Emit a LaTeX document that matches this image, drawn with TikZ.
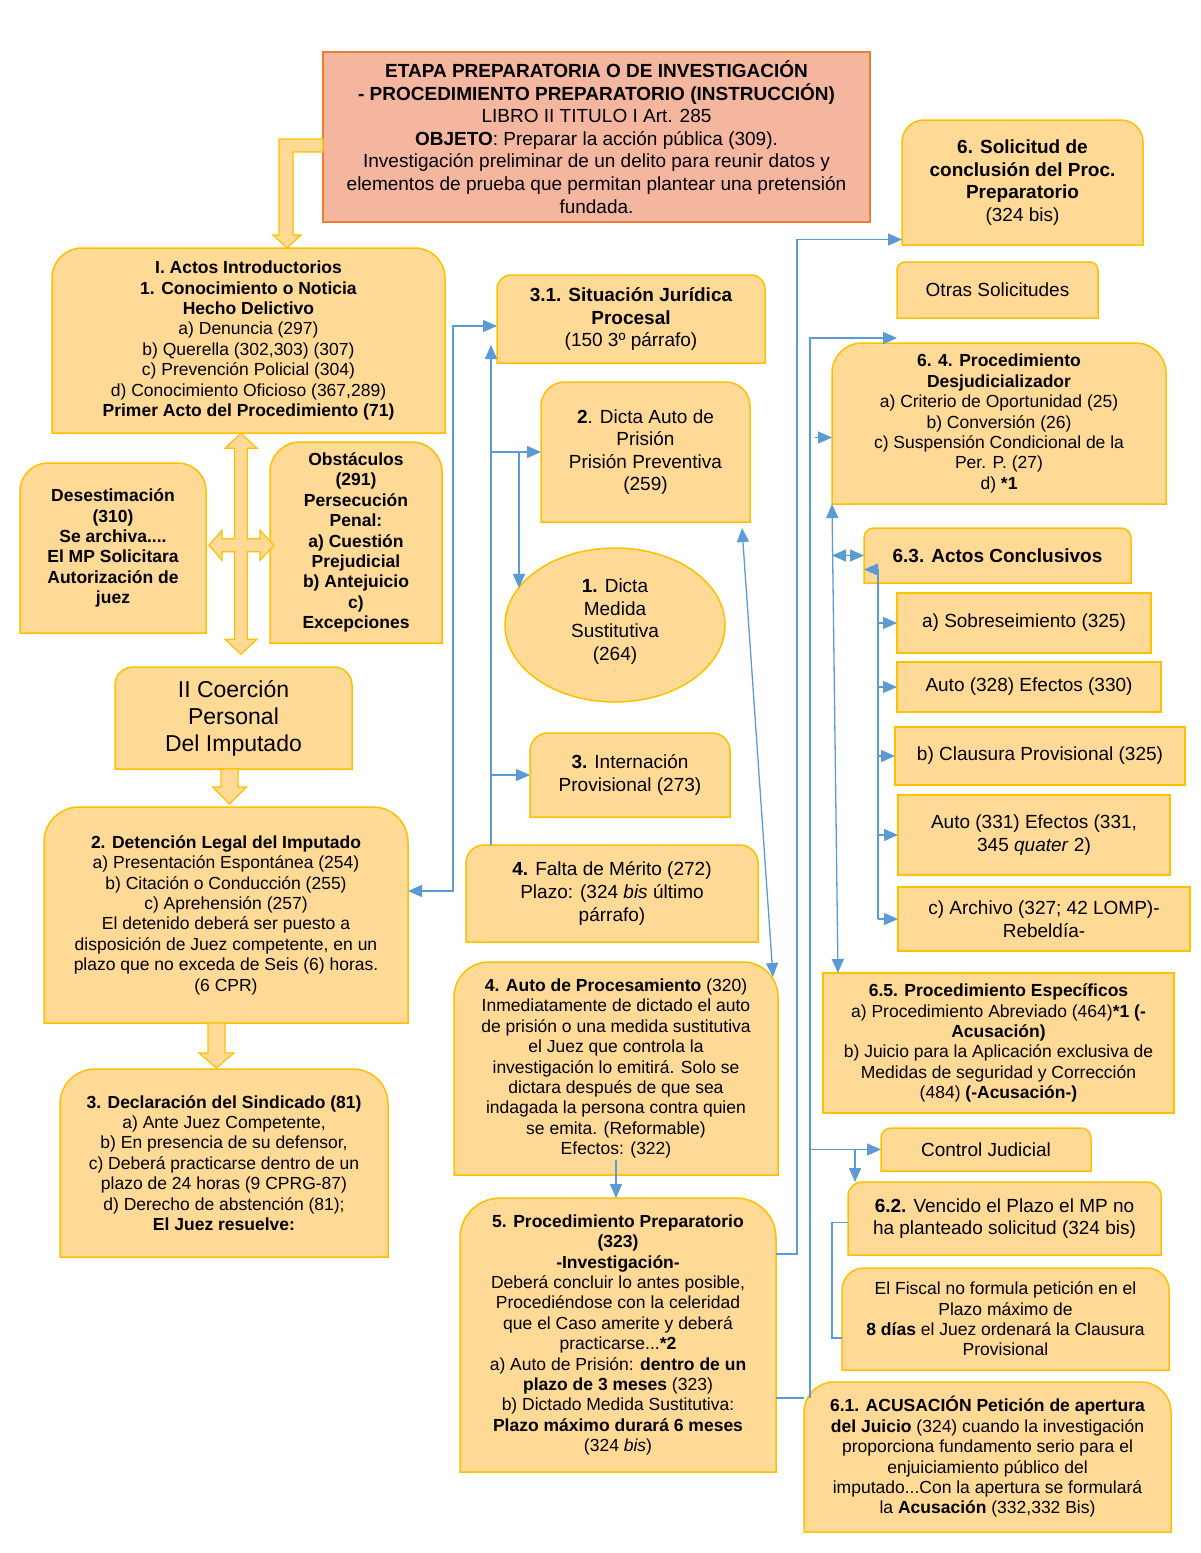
\documentclass[tikz,border=0pt]{standalone}
\usepackage{fontspec}
\setmainfont{Liberation Sans}
\usetikzlibrary{arrows.meta, calc, backgrounds, shapes.geometric}

\definecolor{tabfill}{RGB}{255,217,150}
\definecolor{tabedge}{RGB}{255,192,0}
\definecolor{headfill}{RGB}{245,182,160}
\definecolor{headedge}{RGB}{237,125,49}
\definecolor{linkblue}{RGB}{91,155,213}

% box with rounded top corners only, drawn behind node #1
\newcommand{\tabframe}[2]{%
  \path[tabline] (#1.south west) -- ([yshift=-#2]#1.north west)
    arc[start angle=180, end angle=90, radius=#2]
    -- ([xshift=-#2]#1.north east)
    arc[start angle=90, end angle=0, radius=#2]
    -- (#1.south east) -- cycle;}

\begin{document}
\begin{tikzpicture}
  [x=1pt, y=1pt,
   every node/.style={align=center, inner sep=0pt, outer sep=0pt},
   txt/.style={font=\fontsize{17.5}{20.4}\selectfont},
   btxt/.style={font=\fontsize{17.5}{20.4}\selectfont\bfseries},
   wtxt/.style={font=\fontsize{19}{22.6}\selectfont},
   tabline/.style={fill=tabfill, draw=tabedge, line width=1.5pt},
   flatbox/.style={fill=tabfill, draw=tabedge, line width=1.5pt},
   headbox/.style={fill=headfill, draw=headedge, line width=1.2pt},
   blockarrow/.style={fill=tabfill, draw=tabedge, line width=1.2pt},
   link/.style={draw=linkblue, line width=1.3pt},
   linkto/.style={arrows={-Triangle[length=14pt,width=12pt]}},
   linkboth/.style={arrows={Triangle[length=14pt,width=12pt]-Triangle[length=14pt,width=12pt]}}]

\useasboundingbox (0,0) rectangle (1200,-1553);

%%%  nodes

% top
\node [headbox, wtxt, minimum width=547pt, minimum height=170pt] (head) at (596.5,-137) {\textbf{ETAPA PREPARATORIA O DE INVESTIGACIÓN}\\ \textbf{- PROCEDIMIENTO PREPARATORIO (INSTRUCCIÓN)}\\ LIBRO II TITULO I Art. 285\\ \textbf{OBJETO}: Preparar la acción pública (309).\\ Investigación preliminar de un delito para reunir datos y\\ elementos de prueba que permitan plantear una pretensión\\ fundada.};

% left column
\node [txt, minimum width=393pt, minimum height=185pt] (actos) at (248.5,-340.5) {\textbf{I. Actos Introductorios}\\ \textbf{1. Conocimiento o Noticia}\\ \textbf{Hecho Delictivo}\\ a) Denuncia (297)\\ b) Querella (302,303) (307)\\ c) Prevención Policial (304)\\ d) Conocimiento Oficioso (367,289)\\ \textbf{Primer Acto del Procedimiento (71)}};
\node [btxt, minimum width=186pt, minimum height=170pt] (desest) at (113,-548) {Desestimación\\ (310)\\ Se archiva....\\ El MP Solicitara\\ Autorización de\\ juez};
\node [btxt, minimum width=172pt, minimum height=201pt] (obst) at (356,-542.5) {Obstáculos\\ (291)\\ Persecución\\ Penal:\\ a) Cuestión\\ Prejudicial\\ b) Antejuicio\\ c)\\ Excepciones};
\node [font=\fontsize{23}{27}\selectfont, minimum width=237pt, minimum height=102pt] (coer) at (233.5,-718) {II Coerción\\ Personal\\ Del Imputado};
\node [txt, minimum width=364pt, minimum height=216pt] (deten2) at (226,-915) {\textbf{2. Detención Legal del Imputado}\\ a) Presentación Espontánea (254)\\ b) Citación o Conducción (255)\\ c) Aprehensión (257)\\ El detenido deberá ser puesto a\\ disposición de Juez competente, en un\\ plazo que no exceda de Seis (6) horas.\\ (6 CPR)};
\node [txt, minimum width=328pt, minimum height=188pt] (decl3) at (224,-1163) {\textbf{3. Declaración del Sindicado (81)}\\ a) Ante Juez Competente,\\ b) En presencia de su defensor,\\ c) Deberá practicarse dentro de un\\ plazo de 24 horas (9 CPRG-87)\\ d) Derecho de abstención (81);\\ \textbf{El Juez resuelve:}};

% middle column
\node [wtxt, minimum width=268pt, minimum height=88pt] (sit31) at (631,-319) {\textbf{3.1. Situación Jurídica}\\ \textbf{Procesal}\\ (150 3º párrafo)};
\node [wtxt, minimum width=209pt, minimum height=140pt] (dicta2) at (645.5,-452) {\textbf{2}. Dicta Auto de\\ Prisión\\ Prisión Preventiva\\ (259)};
\node [flatbox, ellipse, wtxt, minimum width=220pt, minimum height=154pt] (ell1) at (615,-625) {\textbf{1.} Dicta\\ Medida\\ Sustitutiva\\ (264)\\[-12pt]{\tiny .}};
\node [wtxt, minimum width=200pt, minimum height=84pt] (intern3) at (630,-775) {\textbf{3.} Internación\\ Provisional (273)};
\node [wtxt, minimum width=292pt, minimum height=97pt] (falta4) at (612,-893.5) {\textbf{4.} Falta de Mérito (272)\\ Plazo: (324 \textit{bis} último\\ párrafo)};
\node [txt, minimum width=324pt, minimum height=213pt] (procauto4) at (616,-1068.5) {\textbf{4. Auto de Procesamiento} (320)\\ Inmediatamente de dictado el auto\\ de prisión o una medida sustitutiva\\ el Juez que controla la\\ investigación lo emitirá. Solo se\\ dictara después de que sea\\ indagada la persona contra quien\\ se emita. (Reformable)\\ Efectos: (322)};
\node [txt, minimum width=316pt, minimum height=274pt] (proc5) at (618,-1335) {\textbf{5. Procedimiento Preparatorio}\\ \textbf{(323)}\\ \textbf{-Investigación-}\\ Deberá concluir lo antes posible,\\ Procediéndose con la celeridad\\ que el Caso amerite y deberá\\ practicarse...\textbf{*2}\\ a) Auto de Prisión: \textbf{dentro de un}\\ \textbf{plazo de 3 meses} (323)\\ b) Dictado Medida Sustitutiva:\\ \textbf{Plazo máximo durará 6 meses}\\ (324 \textit{bis})};

% right column
\node [wtxt, minimum width=241pt, minimum height=125pt] (sol6) at (1022.5,-182.5) {\textbf{6. Solicitud de}\\ \textbf{conclusión del Proc.}\\ \textbf{Preparatorio}\\ (324 bis)};
\node [wtxt, minimum width=201pt, minimum height=56pt] (otras) at (997.5,-290) {Otras Solicitudes};
\node [txt, minimum width=334pt, minimum height=161pt] (desj64) at (999,-423.5) {\textbf{6. 4. Procedimiento}\\ \textbf{Desjudicializador}\\ a) Criterio de Oportunidad (25)\\ b) Conversión (26)\\ c) Suspensión Condicional de la\\ Per. P. (27)\\ d) \textbf{*1}};
\node [wtxt, minimum width=267pt, minimum height=55pt] (acto63) at (997.5,-555.5) {\textbf{6.3. Actos Conclusivos}};
\node [flatbox, wtxt, minimum width=254pt, minimum height=60pt] (sob) at (1024,-623) {a) Sobreseimiento (325)};
\node [flatbox, wtxt, minimum width=264pt, minimum height=50pt] (auto328) at (1029,-687) {Auto (328) Efectos (330)};
\node [flatbox, wtxt, minimum width=290pt, minimum height=58pt] (claus) at (1040,-756) {b) Clausura Provisional (325)};
\node [flatbox, wtxt, minimum width=272pt, minimum height=80pt] (auto331) at (1034,-835) {Auto (331) Efectos (331,\\ 345 \textit{quater} 2)};
\node [flatbox, wtxt, minimum width=292pt, minimum height=64pt] (archivo) at (1044,-919) {c) Archivo (327; 42 LOMP)-\\ Rebeldía-};
\node [flatbox, txt, minimum width=351pt, minimum height=140pt] (espec65) at (998.5,-1043) {\textbf{6.5. Procedimiento Específicos}\\ a) Procedimiento Abreviado (464)\textbf{*1 (-}\\ \textbf{Acusación)}\\ b) Juicio para la Aplicación exclusiva de\\ Medidas de seguridad y Corrección\\ (484) \textbf{(-Acusación-)}};
\node [wtxt, minimum width=210pt, minimum height=43pt] (control) at (986,-1149.5) {Control Judicial};
\node [wtxt, minimum width=313pt, minimum height=73pt] (venc62) at (1004.5,-1218.5) {\textbf{6.2.} Vencido el Plazo el MP no\\ ha planteado solicitud (324 bis)};
\node [txt, minimum width=327pt, minimum height=102pt] (fiscal) at (1005.5,-1319) {El Fiscal no formula petición en el\\ Plazo máximo de\\ \textbf{8 días} el Juez ordenará la Clausura\\ Provisional};
\node [txt, minimum width=367pt, minimum height=150pt] (acus61) at (987.5,-1457) {\textbf{6.1. ACUSACIÓN Petición de apertura}\\ \textbf{del Juicio} (324) cuando la investigación\\ proporciona fundamento serio para el\\ enjuiciamiento público del\\ imputado...Con la apertura se formulará\\ la \textbf{Acusación} (332,332 Bis)};

% frames behind the boxes
\begin{scope}[on background layer]
\tabframe{actos}{30pt}
\tabframe{desest}{28pt}
\tabframe{obst}{30pt}
\tabframe{coer}{18pt}
\tabframe{deten2}{35pt}
\tabframe{decl3}{35pt}
\tabframe{sit31}{14pt}
\tabframe{dicta2}{24pt}
\tabframe{intern3}{18pt}
\tabframe{falta4}{18pt}
\tabframe{procauto4}{35pt}
\tabframe{proc5}{40pt}
\tabframe{sol6}{22pt}
\tabframe{otras}{8pt}
\tabframe{desj64}{30pt}
\tabframe{acto63}{10pt}
\tabframe{control}{10pt}
\tabframe{venc62}{14pt}
\tabframe{fiscal}{22pt}
\tabframe{acus61}{30pt}
\end{scope}

%%%  block arrows

% head to actos
\draw [blockarrow] ([yshift=-2pt]head.west) -- ++(-44,0) -- ++(0,-96) -- ++(-6,0) -- ++(14,-13) -- ++(14,13) -- ++(-8,0) -- ++(0,83) -- ++(30,0) -- cycle;

% cross between actos, desest, obst
\coordinate (hub) at ($(desest.east)!.5!(obst.west)+(3,0)$);
\begin{scope}[shift={(hub)}]
\draw [blockarrow] (0,112) -- (16,97) -- (6.5,97) -- (6.5,6.5) -- (19,6.5) -- (19,15) -- (33,0) -- (19,-15) -- (19,-6.5) -- (6.5,-6.5) -- (6.5,-94) -- (16,-94) -- (0,-109) -- (-16,-94) -- (-6.5,-94) -- (-6.5,-6.5) -- (-19,-6.5) -- (-19,-15) -- (-32,0) -- (-19,15) -- (-19,6.5) -- (-6.5,6.5) -- (-6.5,97) -- (-16,97) -- cycle;
\end{scope}

% coercion down
\draw [blockarrow] ([xshift=-4pt]coer.south) -- ++(-8.5,0) -- ++(0,-18) -- ++(-8.5,0) -- ++(17,-17) -- ++(17,17) -- ++(-8.5,0) -- ++(0,18) -- cycle;
\draw [blockarrow] ([xshift=-9.5pt]deten2.south) -- ++(-8.5,0) -- ++(0,-30) -- ++(-9,0) -- ++(17.5,-15) -- ++(17.5,15) -- ++(-9,0) -- ++(0,30) -- cycle;

%%%  links

% middle
\draw [link, linkboth] ([yshift=24pt]deten2.east) -- ++(45,0) |- ([yshift=-7pt]sit31.west);
\coordinate (trunk) at ([xshift=25pt]falta4.north west);
\coordinate (trunktop) at ([xshift=-6pt,yshift=-26pt]sit31.west);
\draw [link, linkto] (trunk) -- (trunktop);
\draw [link, linkto] (trunk |- dicta2.west) -- (dicta2.west);
\coordinate (fork) at ([xshift=-22pt]dicta2.west);
\draw [link, linkto] (fork) -- (fork |- ell1.159);
\draw [link, linkto] (trunk |- intern3.west) -- (intern3.west);
\draw [link, linkboth] ([xshift=-8pt,yshift=-6pt]dicta2.south east) -- ([xshift=-5pt,yshift=-15pt]procauto4.north east);
\draw [link, linkto] ([yshift=15pt]procauto4.south) -- (procauto4.south |- proc5.north);

% to the right column
\draw [link, linkto] ([yshift=81pt]proc5.east) -- ++(21,0) |- ([yshift=-57pt]sol6.west);
\draw [link] ([yshift=-63pt]proc5.east) -- ([yshift=59pt]acus61.west);
\coordinate (spine) at ([xshift=6pt,yshift=59pt]acus61.west);
\draw [link, linkto] (spine) |- ([yshift=-20pt]otras.south west);
\draw [link, linkto] ([xshift=-17pt,yshift=-14pt]desj64.west) -- ([yshift=-14pt]desj64.west);
\draw [link, linkto] (spine |- control.west) -- (control.west);
\draw [link, linkto] ([xshift=-26pt]control.west) -- ([xshift=7pt]venc62.north west);
\draw [link] ([yshift=-4pt]venc62.west) -- ++(-16,0) |- ([yshift=-19pt]fiscal.west);

% conclusive acts
\draw [link, linkboth] (desj64.south west) -- ([xshift=15pt]espec65.north west);
\draw [link, linkboth] ([xshift=-32pt]acto63.west) -- (acto63.west);
\coordinate (rail) at ([xshift=14pt,yshift=-14pt]acto63.west);
\draw [link, linkto] (rail |- archivo.west) -- (rail) -- ([yshift=-14pt]acto63.west);
\draw [link, linkto] (rail |- sob.west) -- (sob.west);
\draw [link, linkto] (rail |- auto328.west) -- (auto328.west);
\draw [link, linkto] (rail |- claus.west) -- (claus.west);
\draw [link, linkto] (rail |- auto331.west) -- (auto331.west);
\draw [link, linkto] (rail |- archivo.west) -- (archivo.west);

\end{tikzpicture}
\end{document}
